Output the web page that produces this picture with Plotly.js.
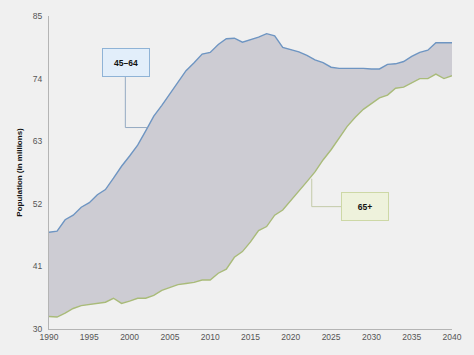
<!DOCTYPE html>
<html>
<head>
<meta charset="utf-8">
<script src="https://cdn.plot.ly/plotly-3.0.1.min.js"></script>
<style>
html,body{margin:0;padding:0;background:#f0f0f0;}
#chart{width:474px;height:355px;}
</style>
</head>
<body>
<div id="chart"></div>
<script>
var years = [];
for (var yr = 1990; yr <= 2040; yr++) years.push(yr);

var age45to64 = [47.0,47.2,49.2,50.0,51.4,52.2,53.6,54.5,56.5,58.6,
  60.4,62.3,64.8,67.4,69.3,71.3,73.3,75.4,76.8,78.3,
  78.6,80.0,81.0,81.1,80.4,80.8,81.3,81.9,81.5,79.5,
  79.1,78.7,78.1,77.3,76.8,76.0,75.8,75.8,75.9,75.8,
  75.7,75.7,76.5,76.6,77.0,77.9,78.6,79.0,80.3,80.3,80.3];

var age65plus = [32.2,32.1,32.8,33.6,34.1,34.3,34.4,34.7,35.4,34.5,
  34.9,35.4,35.4,35.9,36.8,37.3,37.8,38.0,38.2,38.6,
  38.6,39.8,40.5,42.6,43.6,45.3,47.3,48.0,50.0,50.9,
  52.5,54.3,55.9,57.6,59.7,61.5,63.5,65.6,67.2,68.6,
  69.6,70.6,71.1,72.3,72.5,73.3,74.0,74.0,74.8,74.0,74.5];

var yTicks = [30,41,52,63,74,85];
var xTicks = [1990,1995,2000,2005,2010,2015,2020,2025,2030,2035,2040];
var seriesNames = ['65+','45–64'];
var yTitle = 'Population (in millions)';

var traces = [
  {x: years, y: age65plus, name: seriesNames[0], type: 'scatter', mode: 'lines',
   line: {color: '#a9bb79', width: 1.4}, hoverinfo: 'skip'},
  {x: years, y: age45to64, name: seriesNames[1], type: 'scatter', mode: 'lines',
   fill: 'tonexty', fillcolor: '#cdccd3',
   line: {color: '#6e95c2', width: 1.4}, hoverinfo: 'skip'}
];

var layout = {
  width: 474, height: 355,
  paper_bgcolor: '#f0f0f0', plot_bgcolor: '#f0f0f0',
  margin: {l: 49, r: 22, t: 16, b: 26},
  showlegend: false,
  font: {family: 'Liberation Sans, Arial, sans-serif', size: 8.5, color: '#555555'},
  xaxis: {range: [1990, 2040], tickvals: xTicks, ticktext: xTicks.map(String),
    showgrid: false, zeroline: false, showline: true, linecolor: '#b4b4b4', linewidth: 1,
    ticks: '', tickfont: {size: 8.5, color: '#555555'}},
  yaxis: {range: [30, 85], tickvals: yTicks, ticktext: yTicks.map(String),
    showgrid: false, zeroline: false, showline: true, linecolor: '#b4b4b4', linewidth: 1,
    ticks: '', ticklabelstandoff: 4, tickfont: {size: 8.5, color: '#555555'}},
  shapes: [
    {type: 'path', xref: 'x', yref: 'y', layer: 'above',
     path: 'M 1999.47 74.4 L 1999.47 65.4 L 2002.2 65.4',
     line: {color: '#94aac2', width: 1}},
    {type: 'path', xref: 'x', yref: 'y', layer: 'above',
     path: 'M 2028.35 51.5 L 2022.6 51.5 L 2022.6 56.4',
     line: {color: '#c3caa8', width: 1}}
  ],
  annotations: [
    {x: 1999.55, y: 76.9, xref: 'x', yref: 'y', text: '<b>45–64</b>', showarrow: false,
     font: {size: 8.5, color: '#111111'}, bgcolor: '#e2eefa', bordercolor: '#8fb3d6',
     borderwidth: 1, borderpad: 0, width: 46, height: 27},
    {x: 2029.24, y: 51.47, xref: 'x', yref: 'y', text: '<b>65+</b>', showarrow: false,
     font: {size: 8.5, color: '#111111'}, bgcolor: '#eef2dc', bordercolor: '#cdd8a6',
     borderwidth: 1, borderpad: 0, width: 46, height: 27},
    {x: -0.074, y: 0.5, xref: 'paper', yref: 'paper', text: '<b>' + yTitle + '</b>',
     textangle: -90, showarrow: false, xanchor: 'center', yanchor: 'middle',
     font: {size: 8, color: '#111111'}}
  ]
};

Plotly.newPlot('chart', traces, layout, {displayModeBar: false, staticPlot: true});
</script>
</body>
</html>
